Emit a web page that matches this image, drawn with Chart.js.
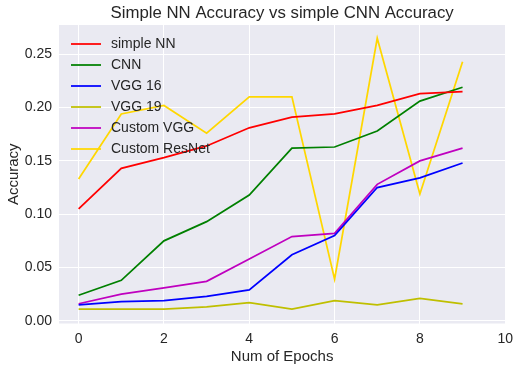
<!DOCTYPE html>
<html>
<head>
<meta charset="utf-8">
<script src="https://cdn.jsdelivr.net/npm/chart.js@4"></script>
<style>
  html, body { margin: 0; padding: 0; background: #fff; }
  #wrap { width: 520px; height: 370px; }
</style>
</head>
<body>
<div id="wrap"><canvas id="accChart" width="520" height="370"></canvas></div>
<script>
const epochs = [0, 1, 2, 3, 4, 5, 6, 7, 8, 9];
const simpleNN = [0.105, 0.143, 0.153, 0.164, 0.181, 0.191, 0.194, 0.202, 0.213, 0.215];
const cnn = [0.024, 0.038, 0.075, 0.093, 0.118, 0.162, 0.163, 0.178, 0.206, 0.219];
const vgg16 = [0.015, 0.018, 0.019, 0.023, 0.029, 0.062, 0.080, 0.125, 0.134, 0.148];
const vgg19 = [0.011, 0.011, 0.011, 0.013, 0.017, 0.011, 0.019, 0.015, 0.021, 0.016];
const customVGG = [0.016, 0.025, 0.031, 0.037, 0.058, 0.079, 0.082, 0.128, 0.150, 0.162];
const customResNet = [0.133, 0.194, 0.202, 0.176, 0.210, 0.210, 0.039, 0.265, 0.119, 0.243];
const chartTitle = 'Simple NN Accuracy vs simple CNN Accuracy';
const yTicksFmt = v => v.toFixed(2);

const textColor = '#262626';
const fontFamily = '"Liberation Sans", Arial, sans-serif';

function line(label, data, color) {
    return { label, data, borderColor: color, backgroundColor: color, borderWidth: 1.75,
             pointRadius: 0, tension: 0, fill: false };
}

// grey seaborn background behind the plot
const bgPlugin = {
    id: 'plotBg',
    beforeDraw(chart) {
        const { ctx, chartArea: a } = chart;
        ctx.save();
        ctx.fillStyle = '#EAEAF2';
        ctx.fillRect(a.left, a.top, a.right - a.left, a.bottom - a.top);
        ctx.restore();
    }
};

// legend inside the axes (upper left) + title centred over the axes, like matplotlib
const innerLegend = {
    id: 'innerLegend',
    afterDraw(chart) {
        const { ctx, chartArea: a } = chart;
        ctx.save();
        ctx.fillStyle = textColor;
        ctx.font = '16.8px ' + fontFamily;
        ctx.textAlign = 'center';
        ctx.textBaseline = 'middle';
        ctx.fillText(chartTitle, (a.left + a.right) / 2, 13.7);

        ctx.textAlign = 'left';
        ctx.font = '14px ' + fontFamily;
        chart.data.datasets.forEach((ds, i) => {
            const y = a.top + 19 + i * 21;
            ctx.strokeStyle = ds.borderColor;
            ctx.lineWidth = 1.75;
            ctx.beginPath();
            ctx.moveTo(a.left + 12, y);
            ctx.lineTo(a.left + 42, y);
            ctx.stroke();
            ctx.fillStyle = textColor;
            ctx.fillText(ds.label, a.left + 52, y);
        });
        ctx.restore();
    }
};

new Chart(document.getElementById('accChart'), {
    type: 'line',
    data: {
        labels: epochs,
        datasets: [
            line('simple NN', simpleNN, '#FF0000'),
            line('CNN', cnn, '#008000'),
            line('VGG 16', vgg16, '#0000FF'),
            line('VGG 19', vgg19, '#BFBF00'),
            line('Custom VGG', customVGG, '#BF00BF'),
            line('Custom ResNet', customResNet, '#FFD700')
        ]
    },
    options: {
        responsive: false,
        animation: false,
        layout: { padding: { left: 0, right: 14, top: 25, bottom: 0 } },
        plugins: {
            legend: { display: false },
            tooltip: { enabled: false },
            title: { display: false }
        },
        scales: {
            x: {
                type: 'linear',
                min: -0.46,
                max: 10,
                afterFit: s => { s.height = 46.5; },
                border: { display: false },
                grid: { color: '#FFFFFF', lineWidth: 1, drawTicks: false },
                ticks: { stepSize: 2, includeBounds: false, padding: 7, color: textColor,
                         font: { family: fontFamily, size: 14 }, maxRotation: 0 },
                title: { display: true, text: 'Num of Epochs', color: textColor,
                         font: { family: fontFamily, size: 15 }, padding: { top: 6 } }
            },
            y: {
                min: -0.0025,
                max: 0.2774,
                afterFit: s => { s.width = 59; },
                border: { display: false },
                grid: { color: '#FFFFFF', lineWidth: 1, drawTicks: false },
                ticks: { stepSize: 0.05, includeBounds: false, padding: 7, color: textColor,
                         font: { family: fontFamily, size: 14 }, callback: yTicksFmt },
                title: { display: true, text: 'Accuracy', color: textColor,
                         font: { family: fontFamily, size: 15 }, padding: { top: 5 } }
            }
        }
    },
    plugins: [bgPlugin, innerLegend]
});
</script>
</body>
</html>
